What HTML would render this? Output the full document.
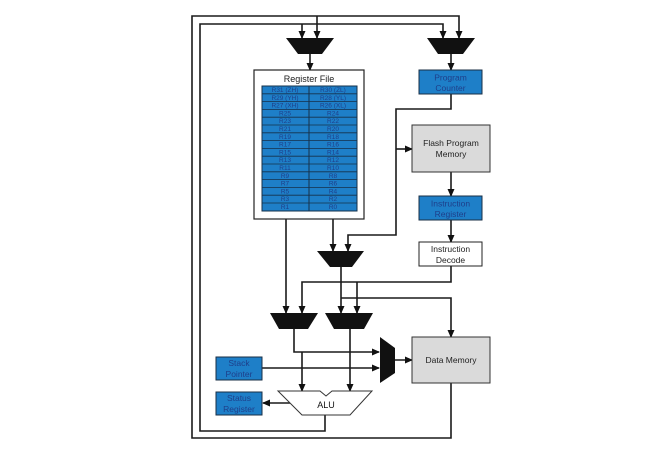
<!DOCTYPE html>
<html><head><style>
html,body{margin:0;padding:0;background:#fff;}
svg{display:block;font-family:"Liberation Sans",sans-serif;}
</style></head><body>
<svg width="661" height="460" viewBox="0 0 661 460" xmlns="http://www.w3.org/2000/svg">
<defs>
<marker id="a" markerWidth="8" markerHeight="8" refX="7" refY="4" orient="auto" markerUnits="userSpaceOnUse">
<path d="M0,0.5 L8,4 L0,7.5 z" fill="#111"/></marker>
</defs>
<rect width="661" height="460" fill="#fff"/>
<g fill="none" stroke="#1a1a1a" stroke-width="1.6">
<!-- outer loops -->
<path d="M451,383 V438 H192 V16 H459 V38" marker-end="url(#a)"/>
<path d="M317,16 V38" marker-end="url(#a)"/>
<path d="M325,415 V431 H200 V24 H443 V38" marker-end="url(#a)"/>
<path d="M302,24 V38" marker-end="url(#a)"/>
<!-- mux outputs top -->
<path d="M310,54 V70" marker-end="url(#a)"/>
<path d="M451,54 V70" marker-end="url(#a)"/>
<!-- PC out -->
<path d="M451,94 V109 H396 V235 H348 V251" marker-end="url(#a)"/>
<path d="M396,149 H412" marker-end="url(#a)"/>
<path d="M451,172 V196" marker-end="url(#a)"/>
<path d="M451,220 V242" marker-end="url(#a)"/>
<!-- RF outputs -->
<path d="M333,219 V251" marker-end="url(#a)"/>
<path d="M286,219 V313" marker-end="url(#a)"/>
<!-- ID out -->
<path d="M451,266 V282 H302 V313" marker-end="url(#a)"/>
<path d="M357,282 V313" marker-end="url(#a)"/>
<!-- mux3 out -->
<path d="M341,267 V313" marker-end="url(#a)"/>
<path d="M341,298 H451 V337" marker-end="url(#a)"/>
<!-- mux4/5 out -->
<path d="M294,329 V352 H379" marker-end="url(#a)"/>
<path d="M302,352 V391" marker-end="url(#a)"/>
<path d="M350,329 V391" marker-end="url(#a)"/>
<path d="M262,368 H379" marker-end="url(#a)"/>
<path d="M395,360 H412" marker-end="url(#a)"/>
<path d="M290,403 H263" marker-end="url(#a)"/>
</g>
<!-- muxes -->
<g fill="#111">
<polygon points="286,38 334,38 322,54 298,54"/>
<polygon points="427,38 475,38 463,54 438,54"/>
<polygon points="317,251 364,251 352,267 330,267"/>
<polygon points="270,313 318,313 308,329 279,329"/>
<polygon points="325,313 373,313 364,329 334,329"/>
<polygon points="380,337 395,348 395,373 380,383"/>
</g>
<!-- ALU -->
<polygon points="278,391 320,391 326,396 332,391 372,391 350,415 302,415 278,391" fill="#fff" stroke="#333" stroke-width="1"/>
<text x="326" y="408" font-size="9" text-anchor="middle" fill="#111">ALU</text>
<!-- Register file -->
<rect x="254" y="70" width="110" height="149" fill="#fff" stroke="#222" stroke-width="1.2"/>
<text x="309" y="82" font-size="9" text-anchor="middle" fill="#222">Register File</text>
<g font-size="6.5" text-anchor="middle" fill="#1e3f8a">
<rect x="262" y="86" width="95" height="125" fill="#1e7fc8" stroke="#16304a" stroke-width="1"/>
<line x1="309" y1="86" x2="309" y2="211" stroke="#16304a" stroke-width="1"/>
<g stroke="#16304a" stroke-width="0.8">
<line x1="262" y1="93.8" x2="357" y2="93.8"/><line x1="262" y1="101.6" x2="357" y2="101.6"/>
<line x1="262" y1="109.4" x2="357" y2="109.4"/><line x1="262" y1="117.2" x2="357" y2="117.2"/>
<line x1="262" y1="125" x2="357" y2="125"/><line x1="262" y1="132.8" x2="357" y2="132.8"/>
<line x1="262" y1="140.6" x2="357" y2="140.6"/><line x1="262" y1="148.4" x2="357" y2="148.4"/>
<line x1="262" y1="156.2" x2="357" y2="156.2"/><line x1="262" y1="164" x2="357" y2="164"/>
<line x1="262" y1="171.8" x2="357" y2="171.8"/><line x1="262" y1="179.6" x2="357" y2="179.6"/>
<line x1="262" y1="187.4" x2="357" y2="187.4"/><line x1="262" y1="195.2" x2="357" y2="195.2"/>
<line x1="262" y1="203" x2="357" y2="203"/>
</g>
<text x="285" y="92">R31 (ZH)</text><text x="333" y="92">R30 (ZL)</text>
<text x="285" y="99.8">R29 (YH)</text><text x="333" y="99.8">R28 (YL)</text>
<text x="285" y="107.6">R27 (XH)</text><text x="333" y="107.6">R26 (XL)</text>
<text x="285" y="115.4">R25</text><text x="333" y="115.4">R24</text>
<text x="285" y="123.2">R23</text><text x="333" y="123.2">R22</text>
<text x="285" y="131">R21</text><text x="333" y="131">R20</text>
<text x="285" y="138.8">R19</text><text x="333" y="138.8">R18</text>
<text x="285" y="146.6">R17</text><text x="333" y="146.6">R16</text>
<text x="285" y="154.4">R15</text><text x="333" y="154.4">R14</text>
<text x="285" y="162.2">R13</text><text x="333" y="162.2">R12</text>
<text x="285" y="170">R11</text><text x="333" y="170">R10</text>
<text x="285" y="177.8">R9</text><text x="333" y="177.8">R8</text>
<text x="285" y="185.6">R7</text><text x="333" y="185.6">R6</text>
<text x="285" y="193.4">R5</text><text x="333" y="193.4">R4</text>
<text x="285" y="201.2">R3</text><text x="333" y="201.2">R2</text>
<text x="285" y="209">R1</text><text x="333" y="209">R0</text>
</g>
<!-- blue boxes -->
<g stroke="#1a2f45" stroke-width="1" fill="#1e7fc8">
<rect x="419" y="70" width="63" height="24"/>
<rect x="419" y="196" width="63" height="24"/>
<rect x="216" y="357" width="46" height="23"/>
<rect x="216" y="392" width="46" height="23"/>
</g>
<g font-size="8.5" text-anchor="middle" fill="#1e3f8a">
<text x="450.5" y="80.5">Program</text><text x="450.5" y="91">Counter</text>
<text x="450.5" y="206.5">Instruction</text><text x="450.5" y="217">Register</text>
<text x="239" y="366">Stack</text><text x="239" y="377">Pointer</text>
<text x="239" y="401">Status</text><text x="239" y="412">Register</text>
</g>
<!-- gray / white boxes -->
<rect x="412" y="125" width="78" height="47" fill="#dadada" stroke="#333" stroke-width="1"/>
<rect x="412" y="337" width="78" height="46" fill="#dadada" stroke="#333" stroke-width="1"/>
<rect x="419" y="242" width="63" height="24" fill="#fff" stroke="#222" stroke-width="1"/>
<g font-size="8.5" text-anchor="middle" fill="#222">
<text x="451" y="146">Flash Program</text><text x="451" y="157">Memory</text>
<text x="451" y="363">Data Memory</text>
<text x="450.5" y="252">Instruction</text><text x="450.5" y="263">Decode</text>
</g>
</svg>
</body></html>
